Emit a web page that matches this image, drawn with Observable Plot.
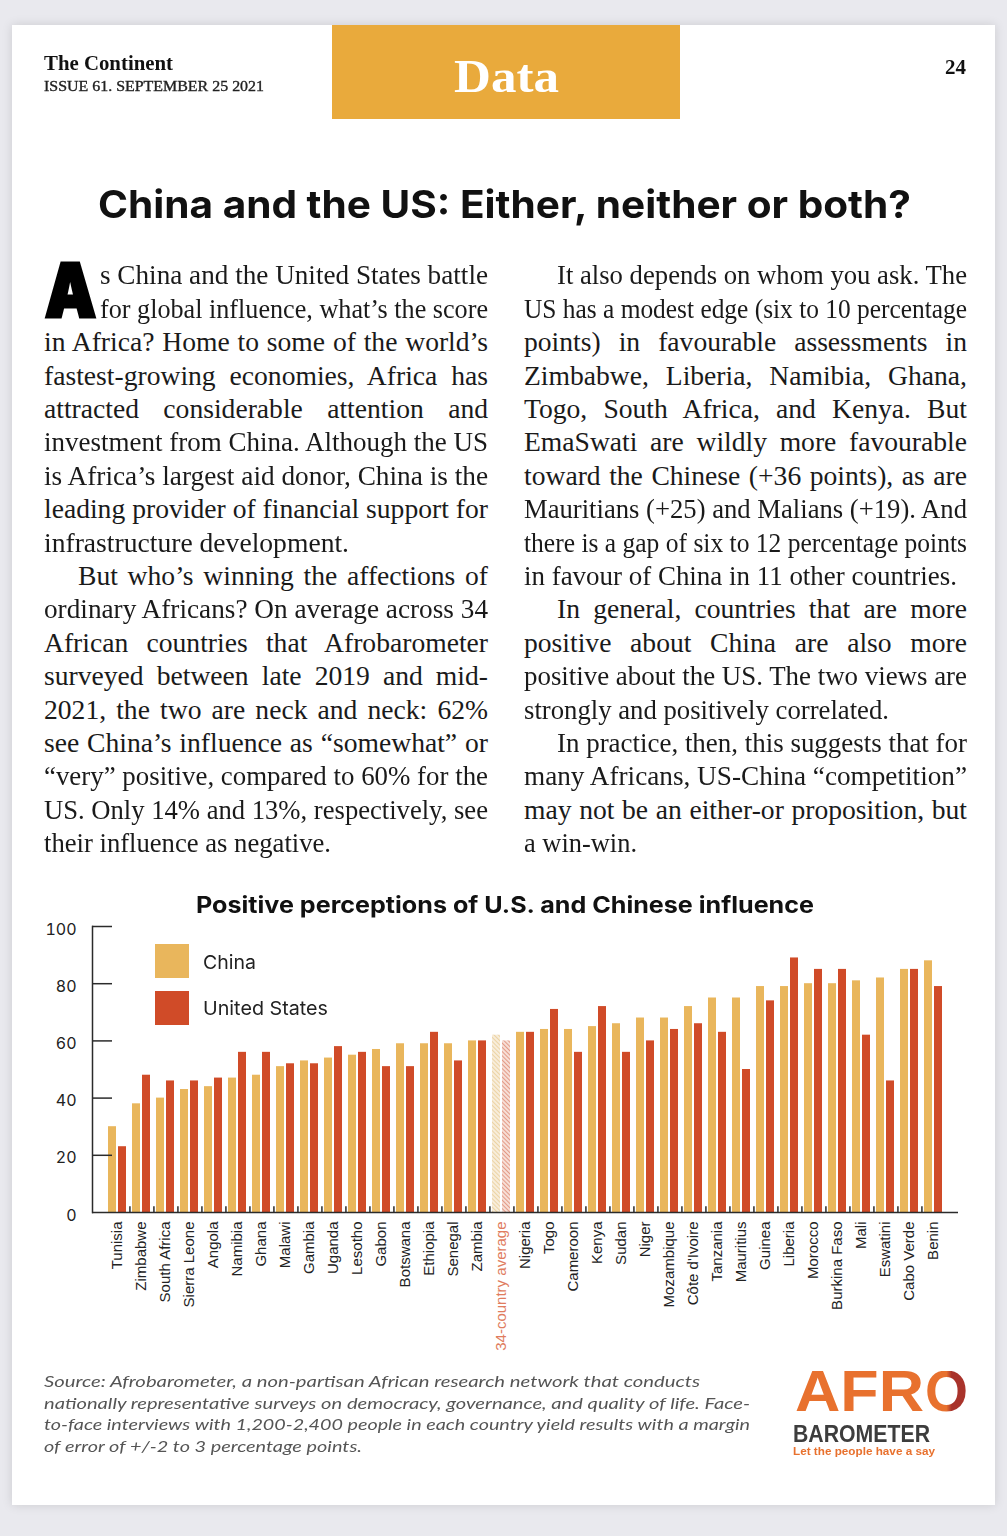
<!DOCTYPE html>
<html><head><meta charset="utf-8">
<script src="https://cdn.jsdelivr.net/npm/d3@7"></script>
<script src="https://cdn.jsdelivr.net/npm/@observablehq/plot@0.6"></script>
<style>
html,body{margin:0;padding:0;background:#e9e9ee;}
#page{position:relative;width:1007px;height:1536px;overflow:hidden;background:#e9e9ee;}
#card{position:absolute;left:12px;top:25px;width:983px;height:1480px;background:#fff;box-shadow:0 0 10px rgba(0,0,0,0.13);}
#tab{position:absolute;left:332px;top:25px;width:348px;height:94px;background:#E9AA3C;}
.sw{position:absolute;width:34px;height:34px;}
</style></head><body><div id="page"><div id="card"></div><div id="tab"></div></div>
<script>
// ---------- data ----------
const countries = ["Tunisia","Zimbabwe","South Africa","Sierra Leone","Angola","Namibia","Ghana","Malawi","Gambia","Uganda","Lesotho","Gabon","Botswana","Ethiopia","Senegal","Zambia","34-country average","Nigeria","Togo","Cameroon","Kenya","Sudan","Niger","Mozambique","Côte d'Ivoire","Tanzania","Mauritius","Guinea","Liberia","Morocco","Burkina Faso","Mali","Eswatini","Cabo Verde","Benin"];
const chinaValues = [30,38,40,43,44,47,48,51,53,54,55,57,59,59,59,60,62,63,64,64,65,66,68,68,72,75,75,79,79,80,80,81,82,85,88];
const usValues = [23,48,46,46,47,56,56,52,52,58,56,51,51,63,53,60,60,63,71,56,72,56,60,64,66,63,50,74,89,85,85,62,46,85,79];
const averageLabel = "34-country average";
const yTicks = [0,20,40,60,80,100];
const seriesNames = ["China","United States"];
const seriesColors = ["#E9B65C","#D04B28"];

const rows = countries.map((c,i)=>({country:c, china:chinaValues[i], us:usValues[i]}));
const regular = rows.filter(d=>d.country!==averageLabel);
const average = rows.filter(d=>d.country===averageLabel);

const page = document.getElementById("page");

// ---------- chart ----------
const chart = Plot.plot({
  width: 1007, height: 460,
  marginLeft: 92, marginRight: 49, marginTop: 11, marginBottom: 163,
  style: {background:"none", color:"#222", fontFamily:"Inter, sans-serif", overflow:"visible"},
  x: {domain: countries, paddingInner: 0.235, paddingOuter: 0.05, label: null},
  y: {domain: [0,100], label: null},
  marks: [
    Plot.barY(regular, {x:"country", y:"china", fill: seriesColors[0], insetRight: 10}),
    Plot.barY(regular, {x:"country", y:"us", fill: seriesColors[1], insetLeft: 10}),
    Plot.barY(average, {x:"country", y:"china", fill:"url(#hatchChina)", insetRight: 10}),
    Plot.barY(average, {x:"country", y:"us", fill:"url(#hatchUS)", insetLeft: 10}),
    Plot.ruleY(yTicks.slice(1), {stroke:"#2b2b2b", strokeWidth:1.5, insetRight: 846}),
    Plot.ruleX(countries.slice(0,-1), {x:d=>d, y1:0, y2:2, dx:12.42, stroke:"#2b2b2b", strokeWidth:1.5}),
    Plot.ruleY([0], {stroke:"#2b2b2b", strokeWidth:1.5}),
    Plot.frame({anchor:"left", stroke:"#2b2b2b", strokeWidth:1.5}),
    Plot.axisY({ticks: yTicks, tickSize:0, tickPadding:16, fontSize:16, fontFamily:"Inter, sans-serif", label:null, dy:3}),
    Plot.axisX({tickSize:0, tickPadding:9, tickRotate:-90, fontSize:15, fontFamily:"'Liberation Sans', Arial, sans-serif", label:null})
  ]
});
const defs = d3.select(chart).insert("defs", ":first-child");
function hatch(id, bg, fg){
  const p = defs.append("pattern").attr("id", id).attr("patternUnits","userSpaceOnUse")
    .attr("width",3).attr("height",3).attr("patternTransform","rotate(-45)");
  p.append("rect").attr("width",3).attr("height",3).attr("fill",bg);
  p.append("line").attr("x1",0.5).attr("y1",0).attr("x2",0.5).attr("y2",3).attr("stroke",fg).attr("stroke-width",1.1);
}
hatch("hatchChina", "#f8eedc", "#ecd3a4");
hatch("hatchUS", "#f7e0d8", "#e39a86");
d3.select(chart).selectAll('[aria-label="x-axis tick label"] text')
  .filter(function(){ return this.textContent === averageLabel; })
  .attr("fill", "#E07C5E");
chart.style.position = "absolute";
chart.style.left = "0px";
chart.style.top = "915px";
page.appendChild(chart);

// legend swatches
seriesNames.forEach((n,i)=>{
  const s = document.createElement("div");
  s.className = "sw";
  s.style.left = "155px";
  s.style.top = (944 + i*47) + "px";
  s.style.background = seriesColors[i];
  page.appendChild(s);
});

// ---------- text helper ----------
function addText(s, o){
  const d = document.createElement("div");
  d.style.position = "absolute"; d.style.left = "0px"; d.style.top = "0px";
  d.style.whiteSpace = "pre"; d.style.font = o.font; d.style.color = o.color || "#1b1b1b";
  d.style.lineHeight = o.lh || "1.3"; d.style.transformOrigin = "0 0";
  d.textContent = s;
  const m = document.createElement("span");
  m.style.cssText = "display:inline-block;width:0;height:0;vertical-align:baseline;";
  d.appendChild(m);
  page.appendChild(d);
  const w0 = d.getBoundingClientRect().width;
  const base = m.offsetTop;
  let scale = 1;
  if (o.justify) {
    const n = (s.match(/ /g) || []).length;
    if (w0 < o.w && n > 0) d.style.wordSpacing = ((o.w - w0) / n) + "px";
    else if (w0 > o.w) scale = o.w / w0;
  } else if (o.w) {
    scale = o.w / w0;
  }
  let left = o.x;
  if (o.cx !== undefined) left = o.cx - (o.w || w0) / 2;
  d.style.left = left + "px";
  d.style.top = (o.y - base) + "px";
  if (scale !== 1) d.style.transform = `scaleX(${scale})`;
  if (o.extra) Object.assign(d.style, o.extra);
  return d;
}

// ---------- header ----------
const serif = '"Liberation Serif", serif';
addText("The Continent", {x:44, y:70, w:129, font:`bold 22px ${serif}`, color:"#111"});
addText("ISSUE 61. SEPTEMBER 25 2021", {x:44, y:91, w:220, font:`15px ${serif}`, color:"#222", extra:{webkitTextStroke:"0.35px #222"}});
addText("Data", {cx:506, y:92, w:105, font:`bold 46px ${serif}`, color:"#fff"});
addText("24", {x:945, y:74, w:21, font:`bold 20px ${serif}`, color:"#111"});
addText("China and the US: Either, neither or both?", {x:98, y:218, w:813, font:'bold 38px Inter, sans-serif', color:"#111"});

// ---------- body ----------
const leftLines = [
  ["s China and the United States battle",100,388,true],
  ["for global influence, what’s the score",100,388,true],
  ["in Africa? Home to some of the world’s",44,444,true],
  ["fastest-growing economies, Africa has",44,444,true],
  ["attracted considerable attention and",44,444,true],
  ["investment from China. Although the US",44,444,true],
  ["is Africa’s largest aid donor, China is the",44,444,true],
  ["leading provider of financial support for",44,444,true],
  ["infrastructure development.",44,305,false],
  ["But who’s winning the affections of",78,410,true],
  ["ordinary Africans? On average across 34",44,444,true],
  ["African countries that Afrobarometer",44,444,true],
  ["surveyed between late 2019 and mid-",44,444,true],
  ["2021, the two are neck and neck: 62%",44,444,true],
  ["see China’s influence as “somewhat” or",44,444,true],
  ["“very” positive, compared to 60% for the",44,444,true],
  ["US. Only 14% and 13%, respectively, see",44,444,true],
  ["their influence as negative.",44,287,false]
];
const rightLines = [
  ["It also depends on whom you ask. The",557,410,true],
  ["US has a modest edge (six to 10 percentage",524,443,true],
  ["points) in favourable assessments in",524,443,true],
  ["Zimbabwe, Liberia, Namibia, Ghana,",524,443,true],
  ["Togo, South Africa, and Kenya. But",524,443,true],
  ["EmaSwati are wildly more favourable",524,443,true],
  ["toward the Chinese (+36 points), as are",524,443,true],
  ["Mauritians (+25) and Malians (+19). And",524,443,true],
  ["there is a gap of six to 12 percentage points",524,443,true],
  ["in favour of China in 11 other countries.",524,433,false],
  ["In general, countries that are more",557,410,true],
  ["positive about China are also more",524,443,true],
  ["positive about the US. The two views are",524,443,true],
  ["strongly and positively correlated.",524,365,false],
  ["In practice, then, this suggests that for",557,410,true],
  ["many Africans, US-China “competition”",524,443,true],
  ["may not be an either-or proposition, but",524,443,true],
  ["a win-win.",524,113,false]
];
const bodyFont = `27.6px ${serif}`;
[leftLines, rightLines].forEach(col => col.forEach((l,i) => {
  addText(l[0], {x:l[1], y:284.3 + i*33.41, w:l[2], justify:l[3], font:bodyFont, color:"#1a1a1a"});
}));
addText("A", {x:45, y:317, w:51, font:'900 74px Inter, sans-serif', color:"#000", extra:{webkitTextStroke:"3px #000"}});

// ---------- chart texts ----------
addText("Positive perceptions of U.S. and Chinese influence", {x:196, y:913, w:618, font:'bold 23px Inter, sans-serif', color:"#111"});
addText(seriesNames[0], {x:203, y:969, w:53, font:'19px Inter, sans-serif', color:"#222"});
addText(seriesNames[1], {x:203, y:1015, w:125, font:'19px Inter, sans-serif', color:"#222"});

const sourceLines = [
  ["Source: Afrobarometer, a non-partisan African research network that conducts",656],
  ["nationally representative surveys on democracy, governance, and quality of life. Face-",706],
  ["to-face interviews with 1,200-2,400 people in each country yield results with a margin",706],
  ["of error of +/-2 to 3 percentage points.",318]
];
sourceLines.forEach((l,i)=>addText(l[0], {x:44, y:1387 + i*21.7, w:l[1], font:'italic 16px Lato, sans-serif', color:"#555"}));

// ---------- logo ----------
addText("AFR", {x:795, y:1411, w:129, lh:"0.7", font:'bold 58px "Liberation Sans", sans-serif', color:"#E8712E"});
addText("O", {x:925, y:1411, w:43, lh:"0.7", font:'bold 58px "Liberation Sans", sans-serif', color:"#E8712E",
  extra:{background:"linear-gradient(90deg,#E8712E 0%,#E8712E 50%,#A9332B 62%,#A9332B 100%)", webkitBackgroundClip:"text", backgroundClip:"text", color:"transparent"}});
addText("BAROMETER", {x:793, y:1442, w:137, lh:"0.75", font:'bold 23px "Liberation Sans", sans-serif', color:"#3d3d3d"});
addText("Let the people have a say", {x:793, y:1455, w:142, lh:"0.8", font:'bold 11px "Liberation Sans", sans-serif', color:"#E8712E"});
</script></body></html>
